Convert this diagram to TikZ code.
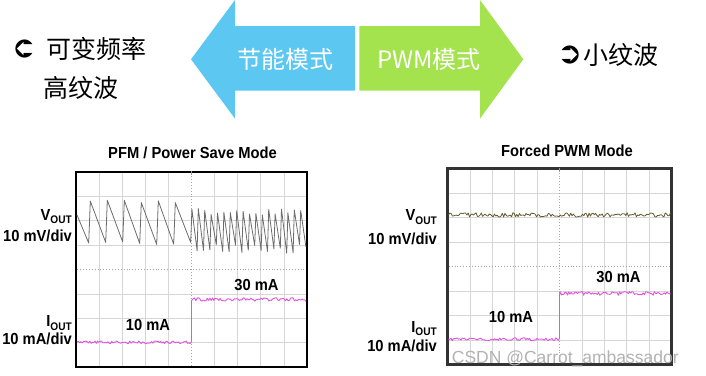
\documentclass[tikz,border=0pt]{standalone}
\usepackage{fontspec}
\setmainfont{Liberation Sans}
\newfontfamily\cjkfont{Noto Sans CJK SC}
\newfontfamily\scopefont[FakeStretch=0.92]{Liberation Sans}
\newfontfamily\symfont{DejaVu Sans}
\usepackage{tikz}
\usetikzlibrary{positioning}
\definecolor{saveblue}{RGB}{92,200,242}
\definecolor{pwmgreen}{RGB}{164,226,78}
\definecolor{ioutpink}{RGB}{226,84,222}
\definecolor{voutolive}{RGB}{98,92,48}
\definecolor{gridgray}{RGB}{214,214,214}
\newcommand{\outsub}{\raisebox{-3.5pt}{\fontsize{11}{11}\selectfont OUT}}

\begin{document}
\begin{tikzpicture}[x=1pt, y=-1pt,
    arrowtext/.style={text=white, inner sep=0pt,
      font=\cjkfont\fontsize{24}{24}\selectfont},
    sidetext/.style={inner sep=0pt, anchor=base west,
      font=\cjkfont\fontsize{25}{25}\selectfont},
    bullet/.style={inner sep=0pt, font=\symfont\fontsize{30}{30}\selectfont},
    scopeframe/.style={draw=#1, line width=2.2pt, inner sep=0pt,
      outer sep=0pt, anchor=north west},
    scopetitle/.style={inner sep=0pt, anchor=base,
      font=\scopefont\bfseries\fontsize{16}{16}\selectfont},
    scopelabel/.style={inner sep=0pt, anchor=base east,
      font=\scopefont\bfseries\fontsize{16}{16}\selectfont},
    gridline/.style={draw=gridgray, line width=0.8pt},
    centerline/.style={draw=gray!70, line width=0.9pt, dotted},
    vouttrace/.style={draw=#1, line width=0.8pt, line join=round},
    iouttrace/.style={draw=ioutpink, line width=0.9pt, line join=round}]
  \useasboundingbox (0,0) rectangle (706,375);
  \pgfmathsetseed{11}

  % MODE ARROWS

  \fill[saveblue] (355,26) -- (235,26) -- (235,0) -- (191,59.3)
    -- (235,118.6) -- (235,90.7) -- (355,90.7) -- cycle;
  \fill[pwmgreen] (359.3,26) -- (480,26) -- (480,0) -- (523.3,59.3)
    -- (480,118.6) -- (480,90.7) -- (359.3,90.7) -- cycle;

  \node[arrowtext] (savetext) at (285,59.3) {节能模式};
  \node[arrowtext] (pwmtext) at (429,59.3) {PWM模式};

  \node[bullet] (pfmbullet) at (25,49) {\scalebox{-1}[1]{➲}};
  \node[sidetext] (freqtext) at (46.7,58.5) {可变频率};
  \node[sidetext] (ripplehigh) at (43,97.8) {高纹波};

  \node[bullet] (pwmbullet) at (570,55) {➲};
  \node[sidetext] (ripplelow) at (583,64.5) {小纹波};

  % PFM SCOPE

  \node[scopeframe=black, minimum width=231pt, minimum height=195pt]
    (pfmscope) at (76,172) {};
  \node[scopetitle] (pfmtitle) at (192.5,158.3) {PFM / Power Save Mode};

  \begin{scope}[shift={(pfmscope.north west)}]
    \foreach \gx in {1,2,3,4,6,7,8,9}
      \draw[gridline] ({\gx*23.1},1.2) -- ({\gx*23.1},193.8);
    \foreach \gy in {1,2,3,5,6,7}
      \draw[gridline] (1.2,{\gy*24.4}) -- (229.8,{\gy*24.4});
    \draw[centerline] (115.5,1.2) -- (115.5,193.8);
    \draw[centerline] (1.2,97.6) -- (229.8,97.6);
    \draw[orange, line width=1.2pt] (115.5,-1) -- (115.5,3);

    \draw[vouttrace=gray!85!black] (1,43) -- (12.7,71)
      \foreach \k in {0,...,5} {
        -- ({12.7+17*\k+1.6},{29+2*rand}) -- ({12.7+17*(\k+1)},{71+2*rand}) }
      \foreach \k in {1,...,18} {
        -- ({114.7+6.4*\k-5.2},{40+4*rand}) -- ({114.7+6.4*\k},{77+5*rand}) };

    \draw[iouttrace] plot[domain=1:115.5, samples=90] (\x,{170.3+1.3*rand})
      -- (115.5,129) -- plot[domain=116:230, samples=90] (\x,{127.5+1.8*rand});
  \end{scope}

  \node[scopelabel] (voutpfm) at (72,220) {V\outsub};
  \node[scopelabel, below=21.5pt of voutpfm.base east, anchor=base east]
    (vdivpfm) {10 mV/div};
  \node[scopelabel] (ioutpfm) at (72,326.5) {I\outsub};
  \node[scopelabel, below=17.5pt of ioutpfm.base east, anchor=base east]
    (idivpfm) {10 mA/div};

  \node[scopetitle] (highpfm) at (256.5,290.8) {30 mA};
  \node[scopetitle] (lowpfm) at (148,330.8) {10 mA};

  % PWM SCOPE

  \node[scopeframe=black!80, minimum width=224pt, minimum height=196pt]
    (pwmscope) at (447.5,168.5) {};
  \node[scopetitle] (pwmtitle) at (567,156.7) {Forced PWM Mode};

  \begin{scope}[shift={(pwmscope.north west)}]
    \foreach \gx in {1,2,3,4,6,7,8,9}
      \draw[gridline] ({\gx*22.4},1.2) -- ({\gx*22.4},194.8);
    \foreach \gy in {1,2,3,5,6,7}
      \draw[gridline] (1.2,{\gy*24.5}) -- (222.8,{\gy*24.5});
    \draw[centerline] (112,1.2) -- (112,194.8);
    \draw[centerline] (1.2,98) -- (222.8,98);
    \draw[orange, line width=1.2pt] (112,-1) -- (112,3);

    \draw[vouttrace=voutolive] plot[domain=1:223, samples=170]
      (\x,{46.5+2.2*rand});

    \draw[iouttrace] plot[domain=1:112, samples=90] (\x,{170.8+1.5*rand})
      -- (112,126) -- plot[domain=112.5:223, samples=90] (\x,{124.8+2*rand});
  \end{scope}

  \node[scopelabel] (voutpwm) at (437,220.7) {V\outsub};
  \node[scopelabel, below=23.8pt of voutpwm.base east, anchor=base east]
    (vdivpwm) {10 mV/div};
  \node[scopelabel] (ioutpwm) at (437,332) {I\outsub};
  \node[scopelabel, below=19.5pt of ioutpwm.base east, anchor=base east]
    (idivpwm) {10 mA/div};

  \node[scopetitle] (highpwm) at (618.5,282.5) {30 mA};
  \node[scopetitle] (lowpwm) at (511,322.8) {10 mA};

  \node[inner sep=0pt, anchor=base west, text=gray!60,
    font=\fontsize{17.5}{17.5}\selectfont] (mark) at (451.7,363.3)
    {CSDN @Carrot\_ambassador};

\end{tikzpicture}
\end{document}
